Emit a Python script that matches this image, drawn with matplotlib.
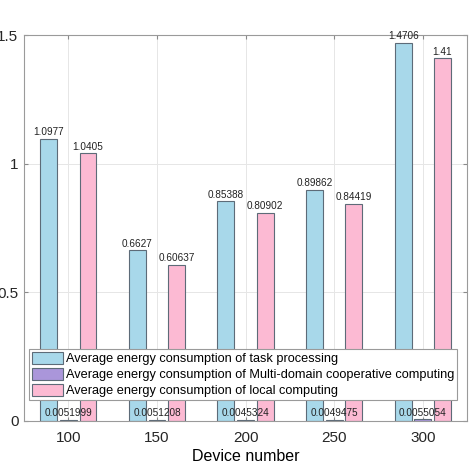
import numpy as np
import matplotlib
matplotlib.use("Agg")
import matplotlib.pyplot as plt

# === Data ===
devices = ["100", "150", "200", "250", "300"]
task_processing = [1.0977, 0.6627, 0.85388, 0.89862, 1.4706]
multi_domain = [0.0051999, 0.0051208, 0.0045324, 0.0049475, 0.0055054]
local_computing = [1.0405, 0.60637, 0.80902, 0.84419, 1.41]
series_labels = [
    "Average energy consumption of task processing",
    "Average energy consumption of Multi-domain cooperative computing",
    "Average energy consumption of local computing",
]
value_labels = [
    ["1.0977", "0.6627", "0.85388", "0.89862", "1.4706"],
    ["0.0051999", "0.0051208", "0.0045324", "0.0049475", "0.0055054"],
    ["1.0405", "0.60637", "0.80902", "0.84419", "1.41"],
]
yticks = [0, 0.5, 1, 1.5]
ytick_labels = ["0", "0.5", "1", "1.5"]

plt.rcParams["font.family"] = ["Liberation Sans", "DejaVu Sans"]

colors = ["#A8D8EA", "#AA96DA", "#FCBAD3"]
edge = "#5d6b78"

fig = plt.figure(figsize=(4.74, 4.74), dpi=100)
ax = fig.add_axes([0.0506, 0.112, 0.935, 0.814])

x = np.arange(len(devices))
offset = 0.222
width = 0.19
series = [task_processing, multi_domain, local_computing]

for i, (vals, col, lab) in enumerate(zip(series, colors, series_labels)):
    pos = x + (i - 1) * offset
    ax.bar(pos, vals, width, color=col, edgecolor=edge, linewidth=0.8,
           label=lab, zorder=2)
    for p, v, t in zip(pos, vals, value_labels[i]):
        ax.text(p, v + 0.006, t, ha="center", va="bottom", fontsize=7.2,
                color="#222222", zorder=4)

ax.set_xlim(-0.5, len(devices) - 0.5)
ax.set_ylim(0, 1.5)
ax.set_xticks(x)
ax.set_xticklabels(devices, fontsize=11)
ax.set_yticks(yticks)
ax.set_yticklabels(ytick_labels, fontsize=11)
ax.set_xlabel("Device number", fontsize=11.5, labelpad=3)

ax.grid(True, color="#e6e6e6", linewidth=0.7, zorder=0)
ax.set_axisbelow(True)
ax.tick_params(direction="in", length=3, color="#8a8a8a", top=True,
               right=True, labelcolor="#262626")
ax.tick_params(axis="x", pad=7)
ax.tick_params(axis="y", pad=4)
for s in ax.spines.values():
    s.set_color("#9a9a9a")
    s.set_linewidth(0.8)

leg = ax.legend(loc="lower left", bbox_to_anchor=(0.011, 0.053),
                fontsize=9.2, frameon=True, fancybox=False,
                framealpha=1, edgecolor="#9a9a9a", handlelength=2.4,
                handleheight=1.0, labelspacing=0.22, borderpad=0.25,
                handletextpad=0.25, borderaxespad=0)
leg.get_frame().set_linewidth(0.8)
leg.set_zorder(3)

fig.savefig("out.png", dpi=100)
